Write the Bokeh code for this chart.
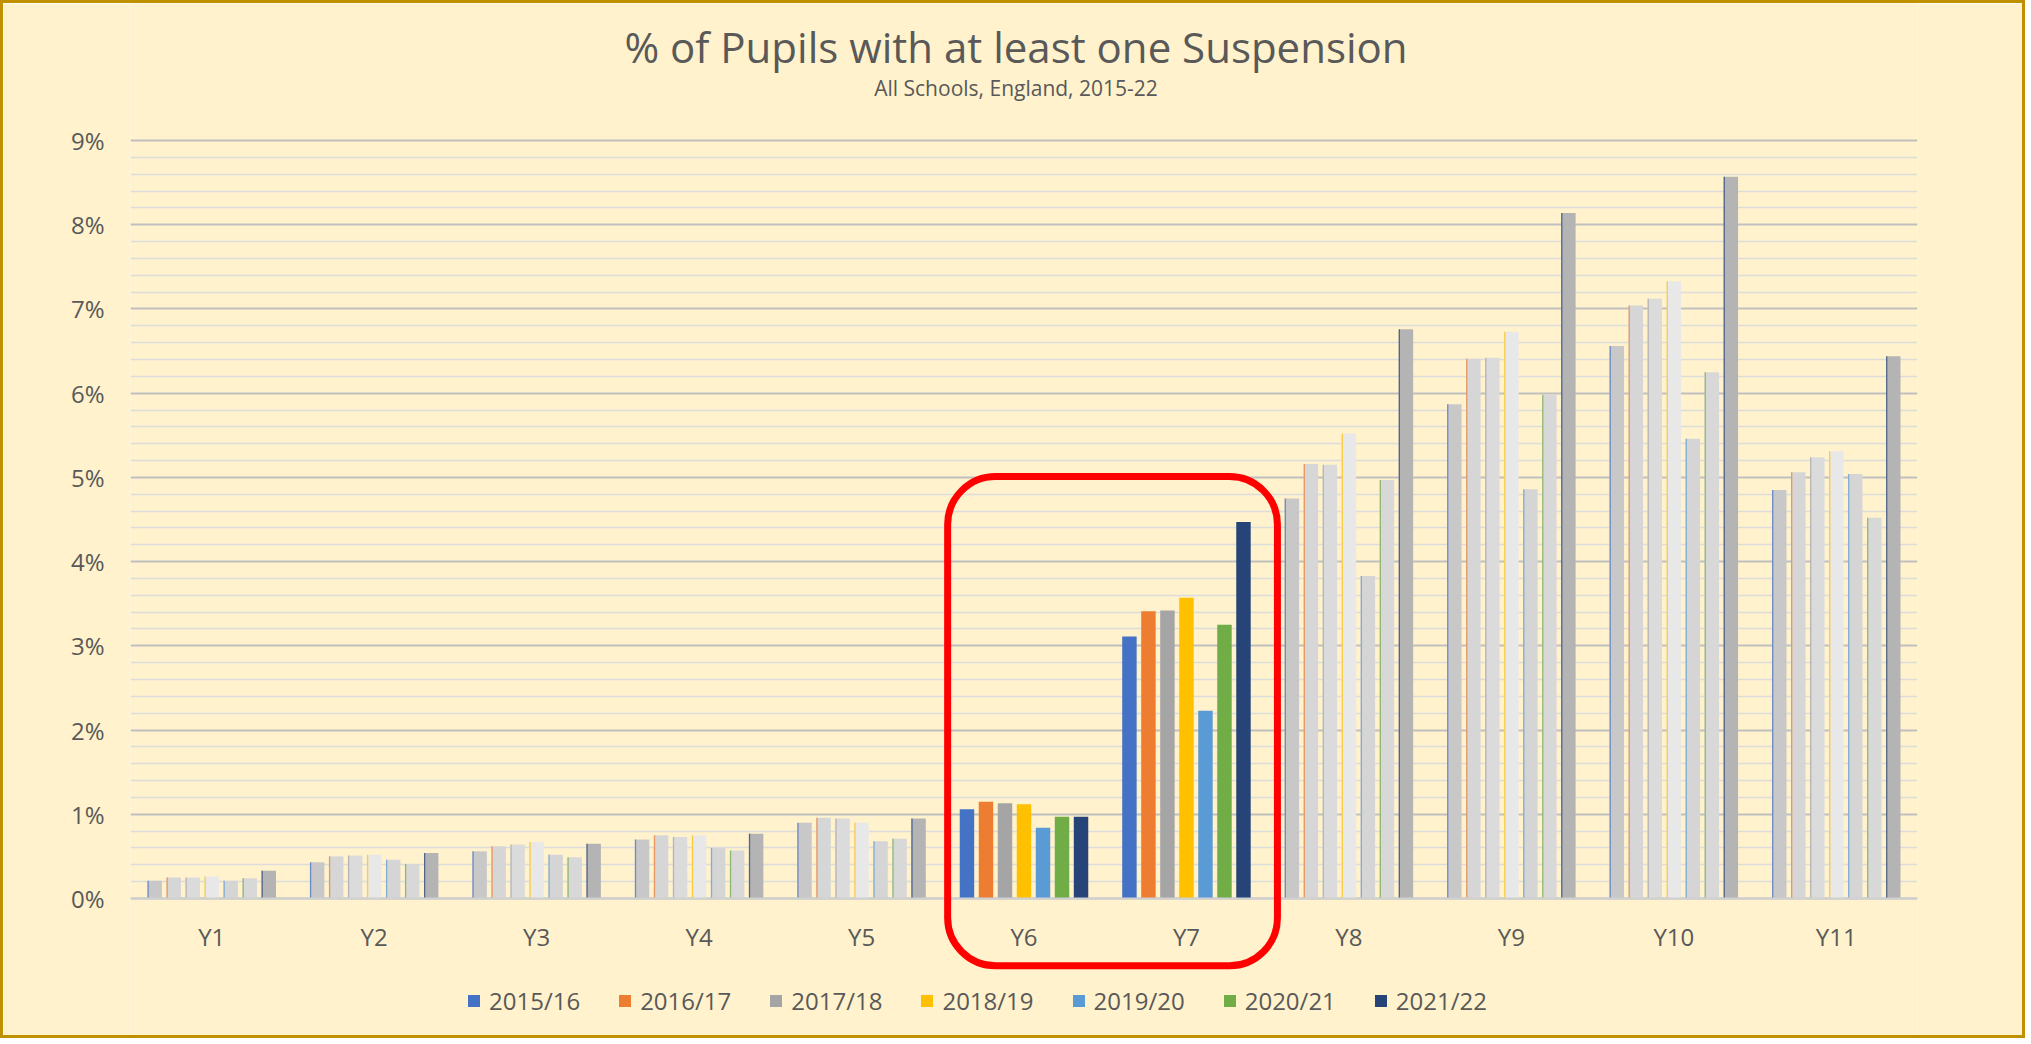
from bokeh.plotting import figure
from bokeh.models import (ColumnDataSource, FactorRange, Range1d, Legend, LegendItem, Label,
                          BoxAnnotation, Span, FixedTicker, PrintfTickFormatter)
from bokeh.core.properties import value
from bokeh.transform import dodge
from bokeh.embed import file_html
from bokeh.resources import INLINE

# ---------------- data ----------------
year_groups = ["Y1", "Y2", "Y3", "Y4", "Y5", "Y6", "Y7", "Y8", "Y9", "Y10", "Y11"]
seasons = ["2015/16", "2016/17", "2017/18", "2018/19", "2019/20", "2020/21", "2021/22"]

pct_2015_16 = [0.21, 0.43, 0.56, 0.70, 0.90, 1.06, 3.11, 4.75, 5.87, 6.56, 4.85]
pct_2016_17 = [0.25, 0.50, 0.62, 0.75, 0.96, 1.15, 3.41, 5.16, 6.41, 7.04, 5.06]
pct_2017_18 = [0.25, 0.51, 0.64, 0.73, 0.95, 1.13, 3.42, 5.15, 6.42, 7.12, 5.24]
pct_2018_19 = [0.26, 0.52, 0.67, 0.75, 0.90, 1.12, 3.57, 5.52, 6.73, 7.33, 5.31]
pct_2019_20 = [0.21, 0.46, 0.52, 0.60, 0.68, 0.84, 2.23, 3.83, 4.86, 5.46, 5.04]
pct_2020_21 = [0.24, 0.41, 0.49, 0.57, 0.71, 0.97, 3.25, 4.97, 5.98, 6.25, 4.52]
pct_2021_22 = [0.33, 0.54, 0.65, 0.77, 0.95, 0.97, 4.47, 6.76, 8.14, 8.57, 6.44]
series_values = [pct_2015_16, pct_2016_17, pct_2017_18, pct_2018_19,
                 pct_2019_20, pct_2020_21, pct_2021_22]

highlighted = ["Y6", "Y7"]
y_major_ticks = [0, 1, 2, 3, 4, 5, 6, 7, 8, 9]
y_minor_ticks = [round(k * 0.2, 1) for k in range(46) if k % 5]

title_text = "% of Pupils with at least one Suspension"
subtitle_text = "All Schools, England, 2015-22"

# ---------------- styles ----------------
season_colors = ["#4472C4", "#ED7D31", "#A5A5A5", "#FFC000", "#5B9BD5", "#70AD47", "#264478"]
muted_greys = ["#C8C8C8", "#D6D6D6", "#DBDBDB", "#E8E8E8", "#D5D5D5", "#D8D8D8", "#B4B4B4"]
FONT = "Open Sans"
TXT = "#595959"
BG = "#FFF2CC"
STEP = 0.117
BAR_W = 0.089

# frame covers the whole canvas height; y range chosen so 0%..9% sit where the reference has them
p = figure(x_range=FactorRange(factors=year_groups), y_range=Range1d(-1.698, 10.627),
           width=2025, height=1038, output_backend="svg", toolbar_location=None,
           title=None, x_axis_location=None,
           min_border_left=127, min_border_right=111, min_border_top=0, min_border_bottom=0,
           background_fill_color=BG, border_fill_color=BG, outline_line_color=None)
p.styles = {"border": "3px solid #BF9000"}

# grid
p.xgrid.grid_line_color = None
p.ygrid.grid_line_color = "#BFBFBF"
p.ygrid.grid_line_width = 2
p.ygrid.minor_grid_line_color = "#DCDCDC"
p.ygrid.minor_grid_line_width = 1.5

# y axis
p.yaxis.ticker = FixedTicker(ticks=y_major_ticks, minor_ticks=y_minor_ticks)
p.yaxis.formatter = PrintfTickFormatter(format="%d%%")
p.yaxis.axis_line_color = None
p.yaxis.major_tick_line_color = None
p.yaxis.minor_tick_line_color = None
p.yaxis.major_tick_out = 0
p.yaxis.major_tick_in = 0
p.yaxis.minor_tick_out = 0
p.yaxis.major_label_text_font = FONT
p.yaxis.major_label_text_font_size = "24px"
p.yaxis.major_label_text_color = TXT
p.yaxis.major_label_standoff = 26

# category axis baseline
p.add_layout(Span(location=0, dimension="width", line_color="#D0D0D0", line_width=2))

# category labels
LABEL_Y = -0.45
lab_src = ColumnDataSource(dict(x=year_groups, y=[LABEL_Y] * len(year_groups)))
p.text(x="x", y="y", text="x", source=lab_src, text_font=value(FONT),
       text_font_size=value("24px"), text_color=TXT, text_align="center",
       text_baseline="middle")

items = []
for i, (label, vals) in enumerate(zip(seasons, series_values)):
    off = (i - 3) * STEP
    fills = [season_colors[i] if g in highlighted else muted_greys[i] for g in year_groups]
    src = ColumnDataSource(dict(x=year_groups, top=vals, fill=fills))
    r = p.vbar(x=dodge("x", off, range=p.x_range), top="top", bottom=0, width=BAR_W,
               source=src, fill_color="fill", line_color=None)
    items.append(LegendItem(label=label, renderers=[r], index=5))
    # thin coloured left edge on the muted (grey) bars
    gx = [g for g in year_groups if g not in highlighted]
    gt = [v for g, v in zip(year_groups, vals) if g not in highlighted]
    esrc = ColumnDataSource(dict(x=gx, top=gt))
    p.vbar(x=dodge("x", off - BAR_W / 2 + 0.004, range=p.x_range), top="top", bottom=0,
           width=0.008, source=esrc, fill_color=season_colors[i], fill_alpha=0.7,
           line_color=None)

legend = Legend(items=items, orientation="horizontal", location=(336, 24),
                label_text_font=FONT, label_text_font_size="24px", label_text_color=TXT,
                glyph_width=15, glyph_height=15, label_standoff=8, spacing=37,
                padding=0, margin=0, border_line_color=None, background_fill_alpha=0)
p.add_layout(legend)

# hand-drawn style highlight around Y6 and Y7
p.add_layout(BoxAnnotation(left=5.03, right=7.06, bottom=-0.80, top=5.01,
                           fill_alpha=0, line_color="#FF0000", line_alpha=1.0,
                           line_width=7, border_radius=48))

# titles
p.add_layout(Label(x=5.5, y=10.12, text=title_text, text_align="center",
                   text_baseline="alphabetic", x_offset=-8, text_font=FONT,
                   text_font_size="42px", text_color=TXT))
p.add_layout(Label(x=5.5, y=9.62, text=subtitle_text, text_align="center",
                   text_baseline="alphabetic", x_offset=-8, text_font=FONT,
                   text_font_size="21px", text_color=TXT))

open("out.html", "w").write(file_html(p, INLINE))
